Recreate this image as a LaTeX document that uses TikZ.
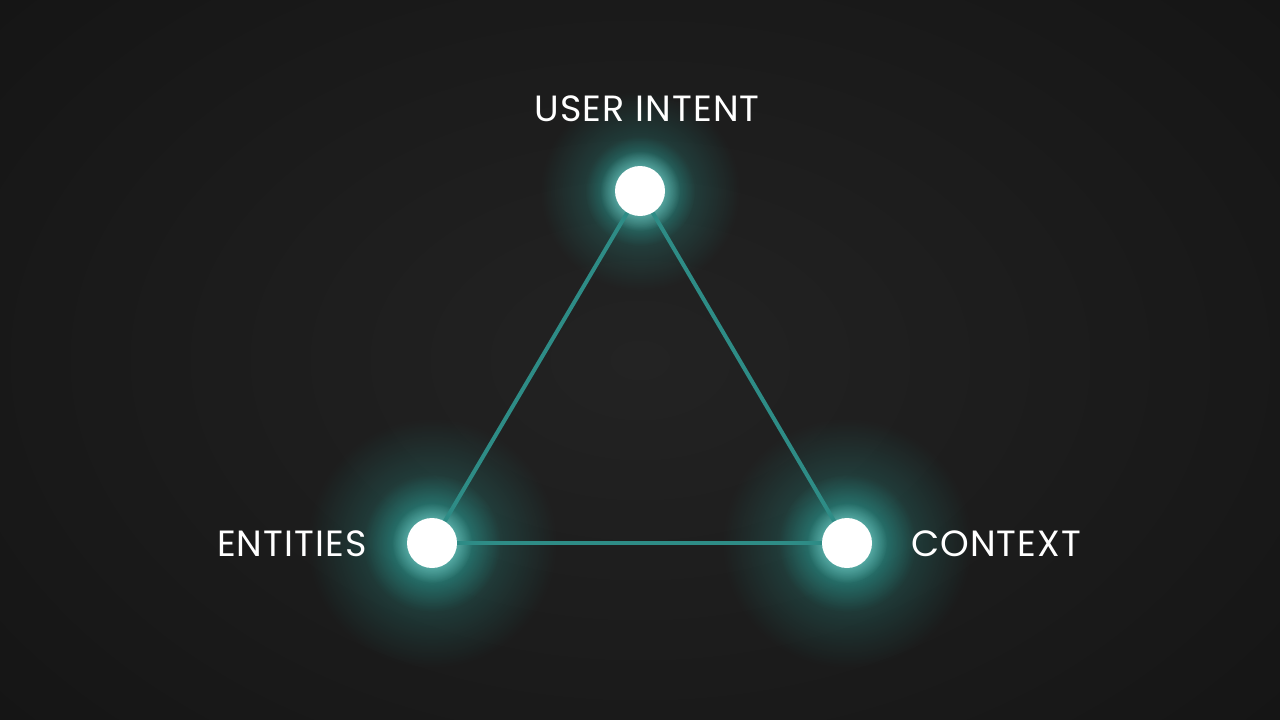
\documentclass[tikz,border=0pt]{standalone}
\usepackage{fontspec}
\setmainfont{Poppins}[LetterSpace=3]
\usetikzlibrary{backgrounds,fadings}
\definecolor{bgin}{HTML}{232323}
\definecolor{bgout}{HTML}{151515}
\definecolor{edgecol}{HTML}{2E8C86}
\definecolor{glowcol}{HTML}{2FBFB4}
\tikzfading[name=glowfade, inner color=transparent!0, outer color=transparent!100]
\tikzset{
  dot/.style={circle, fill=white, minimum size=50pt, inner sep=0pt},
  lbl/.style={text=white, font=\fontsize{36.5}{40}\selectfont, inner sep=0pt, anchor=base},
  edge/.style={draw=edgecol, line width=4pt}
}
\newcommand{\glowat}[2]{%
  \fill[glowcol, fill opacity=0.4, path fading=glowfade] (#1) circle (#2);
  \fill[glowcol, fill opacity=0.7, path fading=glowfade] (#1) circle (0.55*#2);
  \fill[white!50!glowcol, fill opacity=1, path fading=glowfade] (#1) circle (40pt);
}
\begin{document}
\begin{tikzpicture}[x=1pt,y=-1pt]
\useasboundingbox (0,0) rectangle (1280,720);
\node[dot] (ui) at (640,191) {};
\node[dot] (en) at (432,543) {};
\node[dot] (cx) at (847,543) {};
\node[lbl] (tui) at (647,121) {USER INTENT};
\node[lbl] (ten) at (292,556) {ENTITIES};
\node[lbl] (tcx) at (996,556) {CONTEXT};
\begin{pgfonlayer}{background}
\shade[inner color=bgin, outer color=bgout] (-200,-200) rectangle (1480,920);
\glowat{ui}{100pt}
\glowat{en}{125pt}
\glowat{cx}{125pt}
\draw[edge] (ui) -- (en);
\draw[edge] (en) -- (cx);
\draw[edge] (cx) -- (ui);
\end{pgfonlayer}
\end{tikzpicture}
\end{document}
